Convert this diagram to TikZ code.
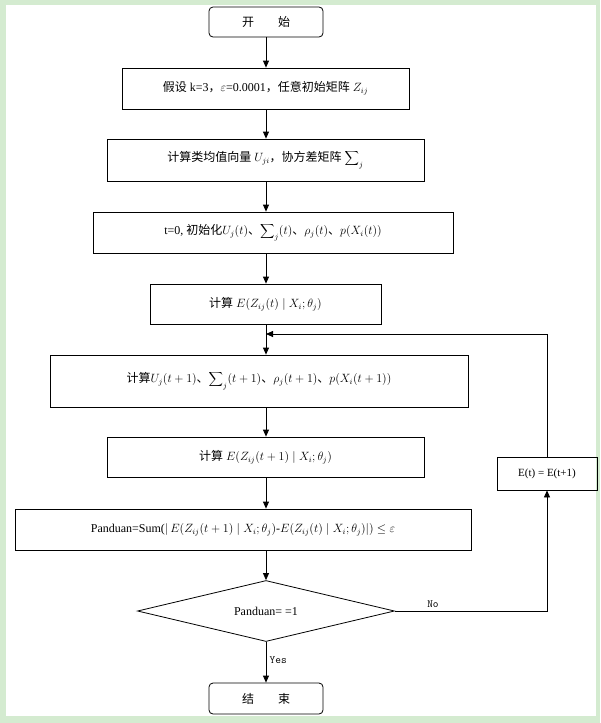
\documentclass[tikz,border=0pt]{standalone}
\usepackage{fontspec}
\setmainfont{Liberation Serif}
\newfontfamily\cjk{Noto Sans CJK SC}
\usetikzlibrary{shapes.geometric,arrows.meta}
\definecolor{bg}{RGB}{212,235,208}
\begin{document}
\begin{tikzpicture}[x=1pt,y=-1pt,
  box/.style={draw,thick,rectangle,inner sep=0pt,font=\fontsize{12}{14}\selectfont},
  term/.style={box,rounded corners=4pt},
  arr/.style={-{Triangle[length=7pt,width=6pt]},thick},
  ln/.style={thick}]
\fill[bg] (0,0) rectangle (600,723);
\fill[white] (6,5) rectangle (596,716);
\useasboundingbox (0,0) rectangle (600,723);
\newcommand\bx[6]{\node[#6,minimum width={#3-#2},minimum height={#5-#4}] (#1) at ({(#2+#3)/2},{(#4+#5)/2}) {};}
\newcommand\cm{{\cjk ，}}
\newcommand\dn{{\cjk 、}}
\tikzset{txt/.style={font=\fontsize{12}{14}\selectfont}}
\bx{s}{209}{323}{7}{37}{term}
\node[txt] at (s) {{\cjk 开\hspace{2em}始}};
\bx{b1}{122}{409}{68}{109}{box}
\node[txt] at (b1) {{\cjk 假设} k=3\cm$\varepsilon$=0.0001\cm{\cjk 任意初始矩阵} $Z_{ij}$};
\bx{b2}{107}{424}{139}{181}{box}
\node[txt] at (b2) {{\cjk 计算类均值向量} $U_{ji}$\cm{\cjk 协方差矩阵} $\displaystyle\sum\nolimits_j$};
\bx{b3}{93}{453}{212}{253}{box}
\node[txt] at (b3) {t=0, {\cjk 初始化}$U_j(t)$\dn $\displaystyle\sum\nolimits_j(t)$\dn $\rho_j(t)$\dn $p(X_i(t))$};
\bx{b4}{150}{381}{284}{324}{box}
\node[txt] at (b4) {{\cjk 计算} $E\bigl(Z_{ij}(t)\mid X_i;\theta_j\bigr)$};
\bx{b5}{50}{468}{355}{407}{box}
\node[txt] at (b5) {{\cjk 计算}$U_j(t+1)$\dn $\displaystyle\sum\nolimits_j(t+1)$\dn $\rho_j(t+1)$\dn $p(X_i(t+1))$};
\bx{b6}{107}{424}{437}{477}{box}
\node[txt] at (b6) {{\cjk 计算} $E\bigl(Z_{ij}(t+1)\mid X_i;\theta_j\bigr)$};
\bx{b7}{15}{471}{509}{550}{box}
\node[txt] at (b7) {Panduan=Sum($|\,E\bigl(Z_{ij}(t+1)\mid X_i;\theta_j\bigr)$-$E\bigl(Z_{ij}(t)\mid X_i;\theta_j\bigr)|)\le\varepsilon$};
\node[draw,thick,diamond,aspect=4.2,minimum width=257,minimum height=61,inner sep=0pt] (d) at (266,611) {};
\node[txt] at (d) {Panduan= =1};
\bx{e}{209}{323}{683}{714}{term}
\node[txt] at (e) {{\cjk 结\hspace{2em}束}};
\bx{eb}{497}{597}{457}{490}{box}
\node[font=\fontsize{11}{13}\selectfont] at (eb) {E(t) = E(t+1)};
\coordinate (j) at (266,334);
\coordinate (c1) at (547,611);
\coordinate (c2) at (547,334);
\draw[arr] (s.south) -- (s.south |- b1.north);
\draw[arr] (b1.south -| s) -- (s |- b2.north);
\draw[arr] (b2.south -| s) -- (s |- b3.north);
\draw[arr] (b3.south -| s) -- (s |- b4.north);
\draw[arr] (b4.south -| s) -- (s |- b5.north);
\draw[arr] (b5.south -| s) -- (s |- b6.north);
\draw[arr] (b6.south -| s) -- (s |- b7.north);
\draw[arr] (b7.south -| s) -- (d.north);
\draw[arr] (d.south) -- node[right,pos=0.45,font=\fontsize{11}{13}\selectfont\ttfamily]{Yes} (e.north);
\draw[arr] (d.east) -- node[above,pos=0.25,font=\fontsize{11}{13}\selectfont\ttfamily]{No} (c1) -- (eb.south);
\draw[arr] (eb.north) -- (c2) -- (j);
\end{tikzpicture}
\end{document}
